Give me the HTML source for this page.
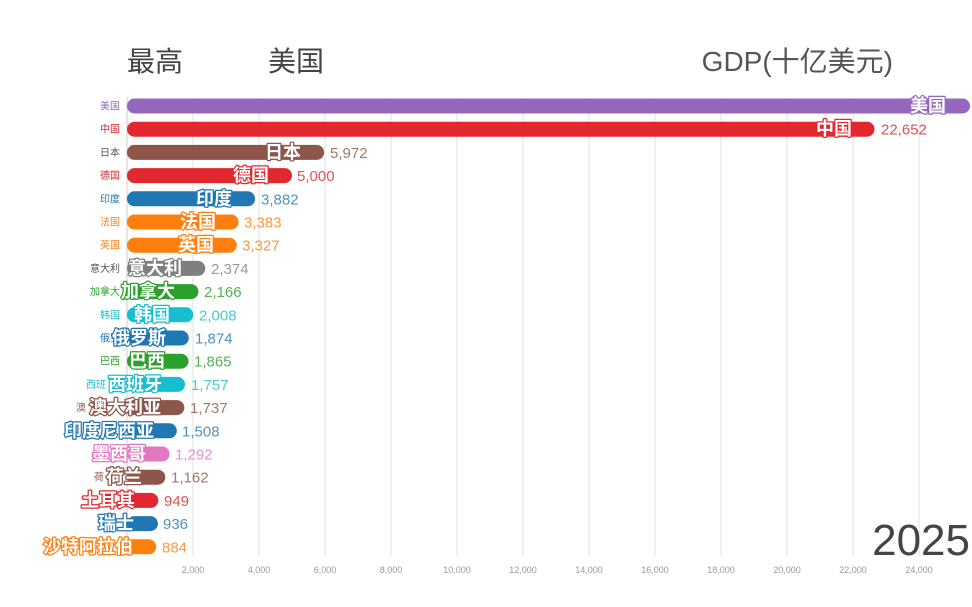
<!DOCTYPE html>
<html><head><meta charset="utf-8"><style>
html,body{margin:0;padding:0;background:#fff;width:972px;height:607px;overflow:hidden}
svg{display:block;font-family:"Liberation Sans","Noto Sans CJK SC",sans-serif}
.il{font-size:18px;font-weight:bold;fill:#fff;text-anchor:end;paint-order:stroke;stroke-width:2.5px;stroke-linejoin:round}
.vl{font-size:15px;opacity:0.8}
.sl{font-size:10px;text-anchor:end}
.tk{font-size:9px;fill:#999;text-anchor:middle}
</style></head><body>
<svg width="972" height="607" viewBox="0 0 972 607">
<g stroke="#e2e2e2" stroke-width="1">
<line x1="127" y1="97" x2="127" y2="556" stroke="#ccc"/>
<line x1="193" y1="97" x2="193" y2="556"/><line x1="259" y1="97" x2="259" y2="556"/>
<line x1="325" y1="97" x2="325" y2="556"/><line x1="391" y1="97" x2="391" y2="556"/>
<line x1="457" y1="97" x2="457" y2="556"/><line x1="523" y1="97" x2="523" y2="556"/>
<line x1="589" y1="97" x2="589" y2="556"/><line x1="655" y1="97" x2="655" y2="556"/>
<line x1="721" y1="97" x2="721" y2="556"/><line x1="787" y1="97" x2="787" y2="556"/>
<line x1="853" y1="97" x2="853" y2="556"/><line x1="919" y1="97" x2="919" y2="556"/>
</g>
<g class="tk">
<text x="193" y="573">2,000</text><text x="259" y="573">4,000</text><text x="325" y="573">6,000</text>
<text x="391" y="573">8,000</text><text x="457" y="573">10,000</text><text x="523" y="573">12,000</text>
<text x="589" y="573">14,000</text><text x="655" y="573">16,000</text><text x="721" y="573">18,000</text>
<text x="787" y="573">20,000</text><text x="853" y="573">22,000</text><text x="919" y="573">24,000</text>
</g>
<text x="127" y="71" font-size="28" fill="#444">最高</text>
<text x="268" y="71" font-size="28" fill="#444">美国</text>
<text x="893" y="71" font-size="28" fill="#555" text-anchor="end">GDP(十亿美元)</text>
<text x="970" y="555" font-size="44" fill="#444" text-anchor="end">2025</text>

<g>
<rect x="127" y="98.5" width="843" height="15" rx="7.5" fill="#9467bd"/>
<text class="sl" x="120" y="109.5" fill="#9467bd">美国</text>
<text class="il" x="946" y="112" stroke="#9467bd">美国</text>

<rect x="127" y="121.7" width="747.5" height="15" rx="7.5" fill="#e0282e"/>
<text class="sl" x="120" y="132.7" fill="#d62728">中国</text>
<text class="il" x="852" y="135.2" stroke="#e0282e">中国</text>
<text class="vl" x="881" y="134.7" fill="#d62728">22,652</text>

<rect x="127" y="144.9" width="197.1" height="15" rx="7.5" fill="#8c564b"/>
<text class="sl" x="120" y="155.9" fill="#555">日本</text>
<text class="il" x="301" y="158.4" stroke="#8c564b">日本</text>
<text class="vl" x="330" y="157.9" fill="#8c564b">5,972</text>

<rect x="127" y="168.1" width="165" height="15" rx="7.5" fill="#e0282e"/>
<text class="sl" x="120" y="179.1" fill="#d62728">德国</text>
<text class="il" x="269" y="181.6" stroke="#e0282e">德国</text>
<text class="vl" x="297" y="181.1" fill="#d62728">5,000</text>

<rect x="127" y="191.3" width="128.1" height="15" rx="7.5" fill="#1f77b4"/>
<text class="sl" x="120" y="202.3" fill="#1f77b4">印度</text>
<text class="il" x="232" y="204.8" stroke="#1f77b4">印度</text>
<text class="vl" x="261" y="204.3" fill="#1f77b4">3,882</text>

<rect x="127" y="214.5" width="111.6" height="15" rx="7.5" fill="#ff7f0e"/>
<text class="sl" x="120" y="225.5" fill="#ff7f0e">法国</text>
<text class="il" x="216" y="228" stroke="#ff7f0e">法国</text>
<text class="vl" x="244" y="227.5" fill="#ff7f0e">3,383</text>

<rect x="127" y="237.7" width="109.8" height="15" rx="7.5" fill="#ff7f0e"/>
<text class="sl" x="120" y="248.7" fill="#ff7f0e">英国</text>
<text class="il" x="214" y="251.2" stroke="#ff7f0e">英国</text>
<text class="vl" x="242" y="250.7" fill="#ff7f0e">3,327</text>

<rect x="127" y="260.9" width="78.3" height="15" rx="7.5" fill="#7f7f7f"/>
<text class="sl" x="120" y="271.9" fill="#555">意大利</text>
<text class="il" x="182" y="274.4" stroke="#7f7f7f">意大利</text>
<text class="vl" x="211" y="273.9" fill="#7f7f7f">2,374</text>

<rect x="127" y="284.1" width="71.5" height="15" rx="7.5" fill="#2ca02c"/>
<text class="sl" x="120" y="295.1" fill="#2ca02c">加拿大</text>
<text class="il" x="175" y="297.6" stroke="#2ca02c">加拿大</text>
<text class="vl" x="204" y="297.1" fill="#2ca02c">2,166</text>

<rect x="127" y="307.3" width="66.3" height="15" rx="7.5" fill="#17becf"/>
<text class="sl" x="120" y="318.3" fill="#17becf">韩国</text>
<text class="il" x="170" y="320.8" stroke="#17becf">韩国</text>
<text class="vl" x="199" y="320.3" fill="#17becf">2,008</text>

<rect x="127" y="330.5" width="61.8" height="15" rx="7.5" fill="#1f77b4"/>
<text class="sl" x="120" y="341.5" fill="#1f77b4">俄罗</text>
<text class="il" x="166" y="344" stroke="#1f77b4">俄罗斯</text>
<text class="vl" x="195" y="343.5" fill="#1f77b4">1,874</text>

<rect x="127" y="353.7" width="61.5" height="15" rx="7.5" fill="#2ca02c"/>
<text class="sl" x="120" y="364.7" fill="#2ca02c">巴西</text>
<text class="il" x="165" y="367.2" stroke="#2ca02c">巴西</text>
<text class="vl" x="194" y="366.7" fill="#2ca02c">1,865</text>

<rect x="127" y="376.9" width="58" height="15" rx="7.5" fill="#17becf"/>
<text class="sl" x="106" y="387.9" fill="#17becf">西班</text>
<text class="il" x="162" y="390.4" stroke="#17becf">西班牙</text>
<text class="vl" x="191" y="389.9" fill="#17becf">1,757</text>

<rect x="127" y="400.1" width="57.3" height="15" rx="7.5" fill="#8c564b"/>
<text class="sl" x="86" y="411.1" fill="#8c564b">澳</text>
<text class="il" x="161" y="413.6" stroke="#8c564b">澳大利亚</text>
<text class="vl" x="190" y="413.1" fill="#8c564b">1,737</text>

<rect x="127" y="423.3" width="49.8" height="15" rx="7.5" fill="#1f77b4"/>
<text class="il" x="154" y="436.8" stroke="#1f77b4">印度尼西亚</text>
<text class="vl" x="182" y="436.3" fill="#1f77b4">1,508</text>

<rect x="127" y="446.5" width="42.6" height="15" rx="7.5" fill="#e377c2"/>
<text class="il" x="146" y="460" stroke="#e377c2">墨西哥</text>
<text class="vl" x="175" y="459.5" fill="#e377c2">1,292</text>

<rect x="127" y="469.7" width="38.3" height="15" rx="7.5" fill="#8c564b"/>
<text class="sl" x="104" y="480.7" fill="#8c564b">荷</text>
<text class="il" x="142" y="483.2" stroke="#8c564b">荷兰</text>
<text class="vl" x="171" y="482.7" fill="#8c564b">1,162</text>

<rect x="127" y="492.9" width="31.3" height="15" rx="7.5" fill="#e0282e"/>
<text class="il" x="135" y="506.4" stroke="#e0282e">土耳其</text>
<text class="vl" x="164" y="505.9" fill="#d62728">949</text>

<rect x="127" y="516.1" width="30.9" height="15" rx="7.5" fill="#1f77b4"/>
<text class="il" x="134" y="529.6" stroke="#1f77b4">瑞士</text>
<text class="vl" x="163" y="529.1" fill="#1f77b4">936</text>

<rect x="127" y="539.3" width="29.2" height="15" rx="7.5" fill="#ff7f0e"/>
<text class="il" x="133" y="552.8" stroke="#ff7f0e">沙特阿拉伯</text>
<text class="vl" x="162" y="552.3" fill="#ff7f0e">884</text>
</g>
</svg>
</body></html>
